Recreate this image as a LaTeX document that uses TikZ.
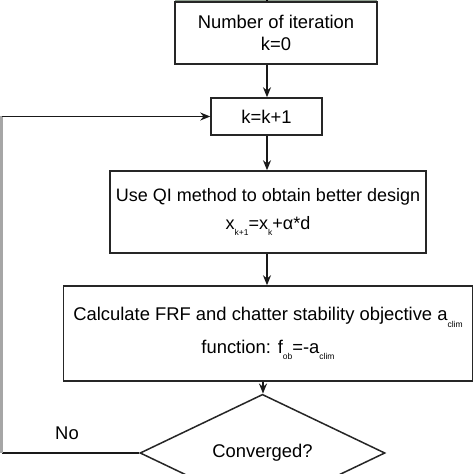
\documentclass[tikz,border=0pt]{standalone}
\usepackage{fontspec}
\setmainfont{Liberation Sans}
\usetikzlibrary{shapes.geometric,arrows.meta,calc}
\newcommand{\sbx}[1]{\raisebox{-0.35em}{\fontsize{8.5}{9}\selectfont #1}}
\begin{document}
\begin{tikzpicture}[x=1pt,y=1pt,
  box/.style={draw=black!85, line width=1.5pt, rectangle, inner sep=0pt, align=center,
    font=\fontsize{18.4}{22}\selectfont},
  arr/.style={draw=black!90, line width=1.5pt, -{Stealth[length=10pt,width=8pt]}},
  lbl/.style={font=\fontsize{18.4}{22}\selectfont, inner sep=0pt}]
\useasboundingbox (0,0) rectangle (474,474);
\fill[white] (0,0) rectangle (474,474);
% top strip (cut-off element above)
\fill[gray!70!green!40!black!50] (175,472) rectangle (377,474);
\node[box, minimum width=202pt, minimum height=62pt] (b1) at (276,441) {Number of iteration\\k=0};
\node[box, minimum width=111pt, minimum height=37pt] (b2) at (266.5,357.5) {k=k+1};
\node[box, minimum width=316pt, minimum height=82pt, font=\fontsize{18}{22}\selectfont] (b3) at (268,262)
  {Use QI method to obtain better design\\[6pt] x\sbx{k+1}=x\sbx{k}+α*d};
\node[box, minimum width=409pt, minimum height=95pt] (b4) at (268,140.5)
  {Calculate FRF and chatter stability objective a\sbx{clim}\\[10.5pt] function: f\sbx{ob}=-a\sbx{clim}};
\node[diamond, draw=black!85, line width=1.5pt, inner sep=0pt, minimum width=245pt, minimum height=80pt,
  font=\fontsize{18.4}{22}\selectfont] (d) at (262.5,21) {Converged?};
\coordinate (top) at (267,474);
\coordinate (ax) at (267,0);
\coordinate (ay) at (263,0);
\coordinate (lx) at (1.5,0);
\draw[black, line width=1.5pt] (top) -- (b1.north -| top);
\draw[arr] (b1.south -| ax) -- (b2.north -| ax);
\draw[arr] (b2.south -| ax) -- (b3.north -| ax);
\draw[arr] (b3.south -| ax) -- (b4.north -| ax);
\draw[arr] (b4.south -| ay) -- (d.north -| ay);
\draw[black!90, line width=1.5pt] (d.west) -- (lx |- d.west);
\draw[black!35, line width=3pt] (lx |- d.west) -- (lx |- b2.west);
\draw[arr] (lx |- b2.west) -- (b2.west);
\node[lbl] (no) at (67,41) {No};
\end{tikzpicture}
\end{document}
